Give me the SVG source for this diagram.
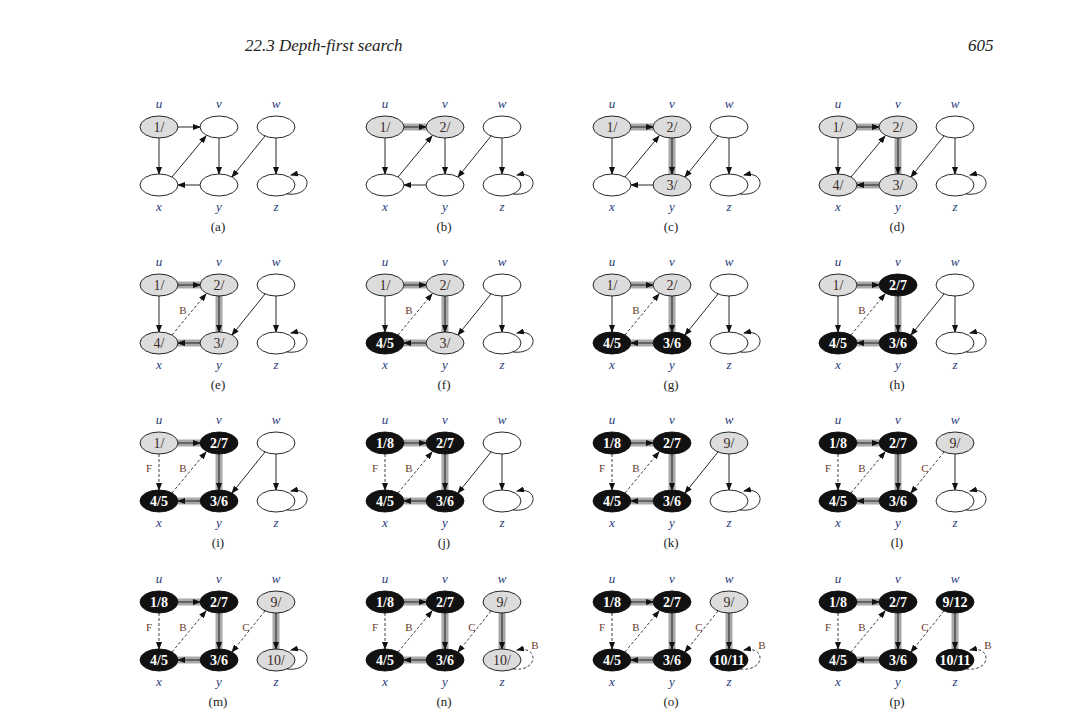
<svg xmlns="http://www.w3.org/2000/svg" xmlns:xlink="http://www.w3.org/1999/xlink" width="1092" height="728" viewBox="0 0 1092 728">
<style>
text{font-family:"Liberation Serif",serif}
.hd{font-style:italic;font-size:17px;fill:#222}
.lb{font-style:italic;font-size:13px;fill:#1f3a78;text-anchor:middle}
.cap{font-size:13px;fill:#222;text-anchor:middle}
.el{fill:none;stroke:#111;stroke-width:0.8}
.n{fill:none;stroke:#111;stroke-width:0.9;marker-end:url(#ar)}
.b{fill:none;stroke:#a8a8a8;stroke-width:7}
.d{fill:none;stroke:#111;stroke-width:0.8;stroke-dasharray:3 2;marker-end:url(#ar)}
.wh{fill:#fff;stroke:#111;stroke-width:0.9}
.gr{fill:#dcdcdc;stroke:#111;stroke-width:0.9}
.bk{fill:#111;stroke:#111;stroke-width:0.9}
.tg{font-size:14px;fill:#3a2a28;text-anchor:middle}
.tb{font-size:14px;font-weight:bold;fill:#fff;text-anchor:middle}
.et{font-size:11px;fill:#6b3b2b;text-anchor:middle}
</style>
<defs>
<marker id="ar" markerWidth="8" markerHeight="6" refX="7" refY="3" orient="auto" markerUnits="userSpaceOnUse"><path d="M0,0 L8,3 L0,6 z" fill="#111"/></marker>
<path id="uv" d="M19,0 L41,0"/>
<path id="ux" d="M0,11 L0,47"/>
<path id="xv" d="M13,50 L47,9"/>
<path id="vy" d="M60,11 L60,47"/>
<path id="yx" d="M41,58 L19,58"/>
<path id="wy" d="M106,9 L73,50"/>
<path id="wz" d="M117,11 L117,47"/>
<path id="zz" d="M128,67 C154,70 154,43 132,48"/>
<g id="labels"><text class="lb" x="0" y="-19">u</text><text class="lb" x="60" y="-19">v</text><text class="lb" x="117" y="-19">w</text><text class="lb" x="0" y="84">x</text><text class="lb" x="60" y="84">y</text><text class="lb" x="117" y="84">z</text></g>
</defs>
<text class="hd" x="245" y="51">22.3    Depth-first search</text>
<text class="hd" x="968" y="51">605</text>

<!-- (a) -->
<g id="panel-a" transform="translate(159,127)">
<g id="a-edges"><use href="#uv" class="n"/><use href="#ux" class="n"/><use href="#xv" class="n"/><use href="#vy" class="n"/><use href="#yx" class="n"/><use href="#wy" class="n"/><use href="#wz" class="n"/><use href="#zz" class="n"/></g>
<g id="a-u"><ellipse class="gr" cx="0" cy="0" rx="19" ry="11"/><text class="tg" x="0" y="5">1/</text></g>
<g id="a-v"><ellipse class="wh" cx="60" cy="0" rx="19" ry="11"/></g>
<g id="a-w"><ellipse class="wh" cx="117" cy="0" rx="19" ry="11"/></g>
<g id="a-x"><ellipse class="wh" cx="0" cy="58" rx="19" ry="11"/></g>
<g id="a-y"><ellipse class="wh" cx="60" cy="58" rx="19" ry="11"/></g>
<g id="a-z"><ellipse class="wh" cx="117" cy="58" rx="19" ry="11"/></g>
<use href="#labels"/><text class="cap" x="59" y="104">(a)</text>
</g>

<!-- (b) -->
<g id="panel-b" transform="translate(385,127)">
<g id="b-edges"><use href="#uv" class="b"/><use href="#uv" class="n"/><use href="#ux" class="n"/><use href="#xv" class="n"/><use href="#vy" class="n"/><use href="#yx" class="n"/><use href="#wy" class="n"/><use href="#wz" class="n"/><use href="#zz" class="n"/></g>
<g id="b-u"><ellipse class="gr" cx="0" cy="0" rx="19" ry="11"/><text class="tg" x="0" y="5">1/</text></g>
<g id="b-v"><ellipse class="gr" cx="60" cy="0" rx="19" ry="11"/><text class="tg" x="60" y="5">2/</text></g>
<g id="b-w"><ellipse class="wh" cx="117" cy="0" rx="19" ry="11"/></g>
<g id="b-x"><ellipse class="wh" cx="0" cy="58" rx="19" ry="11"/></g>
<g id="b-y"><ellipse class="wh" cx="60" cy="58" rx="19" ry="11"/></g>
<g id="b-z"><ellipse class="wh" cx="117" cy="58" rx="19" ry="11"/></g>
<use href="#labels"/><text class="cap" x="59" y="104">(b)</text>
</g>

<!-- (c) -->
<g id="panel-c" transform="translate(612,127)">
<g id="c-edges"><use href="#uv" class="b"/><use href="#vy" class="b"/><use href="#uv" class="n"/><use href="#ux" class="n"/><use href="#xv" class="n"/><use href="#vy" class="n"/><use href="#yx" class="n"/><use href="#wy" class="n"/><use href="#wz" class="n"/><use href="#zz" class="n"/></g>
<g id="c-u"><ellipse class="gr" cx="0" cy="0" rx="19" ry="11"/><text class="tg" x="0" y="5">1/</text></g>
<g id="c-v"><ellipse class="gr" cx="60" cy="0" rx="19" ry="11"/><text class="tg" x="60" y="5">2/</text></g>
<g id="c-w"><ellipse class="wh" cx="117" cy="0" rx="19" ry="11"/></g>
<g id="c-x"><ellipse class="wh" cx="0" cy="58" rx="19" ry="11"/></g>
<g id="c-y"><ellipse class="gr" cx="60" cy="58" rx="19" ry="11"/><text class="tg" x="60" y="63">3/</text></g>
<g id="c-z"><ellipse class="wh" cx="117" cy="58" rx="19" ry="11"/></g>
<use href="#labels"/><text class="cap" x="59" y="104">(c)</text>
</g>

<!-- (d) -->
<g id="panel-d" transform="translate(838,127)">
<g id="d-edges"><use href="#uv" class="b"/><use href="#vy" class="b"/><use href="#yx" class="b"/><use href="#uv" class="n"/><use href="#ux" class="n"/><use href="#xv" class="n"/><use href="#vy" class="n"/><use href="#yx" class="n"/><use href="#wy" class="n"/><use href="#wz" class="n"/><use href="#zz" class="n"/></g>
<g id="d-u"><ellipse class="gr" cx="0" cy="0" rx="19" ry="11"/><text class="tg" x="0" y="5">1/</text></g>
<g id="d-v"><ellipse class="gr" cx="60" cy="0" rx="19" ry="11"/><text class="tg" x="60" y="5">2/</text></g>
<g id="d-w"><ellipse class="wh" cx="117" cy="0" rx="19" ry="11"/></g>
<g id="d-x"><ellipse class="gr" cx="0" cy="58" rx="19" ry="11"/><text class="tg" x="0" y="63">4/</text></g>
<g id="d-y"><ellipse class="gr" cx="60" cy="58" rx="19" ry="11"/><text class="tg" x="60" y="63">3/</text></g>
<g id="d-z"><ellipse class="wh" cx="117" cy="58" rx="19" ry="11"/></g>
<use href="#labels"/><text class="cap" x="59" y="104">(d)</text>
</g>

<!-- (e) -->
<g id="panel-e" transform="translate(159,285)">
<g id="e-edges"><use href="#uv" class="b"/><use href="#vy" class="b"/><use href="#yx" class="b"/><use href="#uv" class="n"/><use href="#ux" class="n"/><use href="#xv" class="d"/><use href="#vy" class="n"/><use href="#yx" class="n"/><use href="#wy" class="n"/><use href="#wz" class="n"/><use href="#zz" class="n"/><text class="et" x="24" y="29">B</text></g>
<g id="e-u"><ellipse class="gr" cx="0" cy="0" rx="19" ry="11"/><text class="tg" x="0" y="5">1/</text></g>
<g id="e-v"><ellipse class="gr" cx="60" cy="0" rx="19" ry="11"/><text class="tg" x="60" y="5">2/</text></g>
<g id="e-w"><ellipse class="wh" cx="117" cy="0" rx="19" ry="11"/></g>
<g id="e-x"><ellipse class="gr" cx="0" cy="58" rx="19" ry="11"/><text class="tg" x="0" y="63">4/</text></g>
<g id="e-y"><ellipse class="gr" cx="60" cy="58" rx="19" ry="11"/><text class="tg" x="60" y="63">3/</text></g>
<g id="e-z"><ellipse class="wh" cx="117" cy="58" rx="19" ry="11"/></g>
<use href="#labels"/><text class="cap" x="59" y="104">(e)</text>
</g>

<!-- (f) -->
<g id="panel-f" transform="translate(385,285)">
<g id="f-edges"><use href="#uv" class="b"/><use href="#vy" class="b"/><use href="#yx" class="b"/><use href="#uv" class="n"/><use href="#ux" class="n"/><use href="#xv" class="d"/><use href="#vy" class="n"/><use href="#yx" class="n"/><use href="#wy" class="n"/><use href="#wz" class="n"/><use href="#zz" class="n"/><text class="et" x="24" y="29">B</text></g>
<g id="f-u"><ellipse class="gr" cx="0" cy="0" rx="19" ry="11"/><text class="tg" x="0" y="5">1/</text></g>
<g id="f-v"><ellipse class="gr" cx="60" cy="0" rx="19" ry="11"/><text class="tg" x="60" y="5">2/</text></g>
<g id="f-w"><ellipse class="wh" cx="117" cy="0" rx="19" ry="11"/></g>
<g id="f-x"><ellipse class="bk" cx="0" cy="58" rx="19" ry="11"/><text class="tb" x="0" y="63">4/5</text></g>
<g id="f-y"><ellipse class="gr" cx="60" cy="58" rx="19" ry="11"/><text class="tg" x="60" y="63">3/</text></g>
<g id="f-z"><ellipse class="wh" cx="117" cy="58" rx="19" ry="11"/></g>
<use href="#labels"/><text class="cap" x="59" y="104">(f)</text>
</g>

<!-- (g) -->
<g id="panel-g" transform="translate(612,285)">
<g id="g-edges"><use href="#uv" class="b"/><use href="#vy" class="b"/><use href="#yx" class="b"/><use href="#uv" class="n"/><use href="#ux" class="n"/><use href="#xv" class="d"/><use href="#vy" class="n"/><use href="#yx" class="n"/><use href="#wy" class="n"/><use href="#wz" class="n"/><use href="#zz" class="n"/><text class="et" x="24" y="29">B</text></g>
<g id="g-u"><ellipse class="gr" cx="0" cy="0" rx="19" ry="11"/><text class="tg" x="0" y="5">1/</text></g>
<g id="g-v"><ellipse class="gr" cx="60" cy="0" rx="19" ry="11"/><text class="tg" x="60" y="5">2/</text></g>
<g id="g-w"><ellipse class="wh" cx="117" cy="0" rx="19" ry="11"/></g>
<g id="g-x"><ellipse class="bk" cx="0" cy="58" rx="19" ry="11"/><text class="tb" x="0" y="63">4/5</text></g>
<g id="g-y"><ellipse class="bk" cx="60" cy="58" rx="19" ry="11"/><text class="tb" x="60" y="63">3/6</text></g>
<g id="g-z"><ellipse class="wh" cx="117" cy="58" rx="19" ry="11"/></g>
<use href="#labels"/><text class="cap" x="59" y="104">(g)</text>
</g>

<!-- (h) -->
<g id="panel-h" transform="translate(838,285)">
<g id="h-edges"><use href="#uv" class="b"/><use href="#vy" class="b"/><use href="#yx" class="b"/><use href="#uv" class="n"/><use href="#ux" class="n"/><use href="#xv" class="d"/><use href="#vy" class="n"/><use href="#yx" class="n"/><use href="#wy" class="n"/><use href="#wz" class="n"/><use href="#zz" class="n"/><text class="et" x="24" y="29">B</text></g>
<g id="h-u"><ellipse class="gr" cx="0" cy="0" rx="19" ry="11"/><text class="tg" x="0" y="5">1/</text></g>
<g id="h-v"><ellipse class="bk" cx="60" cy="0" rx="19" ry="11"/><text class="tb" x="60" y="5">2/7</text></g>
<g id="h-w"><ellipse class="wh" cx="117" cy="0" rx="19" ry="11"/></g>
<g id="h-x"><ellipse class="bk" cx="0" cy="58" rx="19" ry="11"/><text class="tb" x="0" y="63">4/5</text></g>
<g id="h-y"><ellipse class="bk" cx="60" cy="58" rx="19" ry="11"/><text class="tb" x="60" y="63">3/6</text></g>
<g id="h-z"><ellipse class="wh" cx="117" cy="58" rx="19" ry="11"/></g>
<use href="#labels"/><text class="cap" x="59" y="104">(h)</text>
</g>

<!-- (i) -->
<g id="panel-i" transform="translate(159,443)">
<g id="i-edges"><use href="#uv" class="b"/><use href="#vy" class="b"/><use href="#yx" class="b"/><use href="#uv" class="n"/><use href="#ux" class="d"/><use href="#xv" class="d"/><use href="#vy" class="n"/><use href="#yx" class="n"/><use href="#wy" class="n"/><use href="#wz" class="n"/><use href="#zz" class="n"/><text class="et" x="24" y="29">B</text><text class="et" x="-10" y="29">F</text></g>
<g id="i-u"><ellipse class="gr" cx="0" cy="0" rx="19" ry="11"/><text class="tg" x="0" y="5">1/</text></g>
<g id="i-v"><ellipse class="bk" cx="60" cy="0" rx="19" ry="11"/><text class="tb" x="60" y="5">2/7</text></g>
<g id="i-w"><ellipse class="wh" cx="117" cy="0" rx="19" ry="11"/></g>
<g id="i-x"><ellipse class="bk" cx="0" cy="58" rx="19" ry="11"/><text class="tb" x="0" y="63">4/5</text></g>
<g id="i-y"><ellipse class="bk" cx="60" cy="58" rx="19" ry="11"/><text class="tb" x="60" y="63">3/6</text></g>
<g id="i-z"><ellipse class="wh" cx="117" cy="58" rx="19" ry="11"/></g>
<use href="#labels"/><text class="cap" x="59" y="104">(i)</text>
</g>

<!-- (j) -->
<g id="panel-j" transform="translate(385,443)">
<g id="j-edges"><use href="#uv" class="b"/><use href="#vy" class="b"/><use href="#yx" class="b"/><use href="#uv" class="n"/><use href="#ux" class="d"/><use href="#xv" class="d"/><use href="#vy" class="n"/><use href="#yx" class="n"/><use href="#wy" class="n"/><use href="#wz" class="n"/><use href="#zz" class="n"/><text class="et" x="24" y="29">B</text><text class="et" x="-10" y="29">F</text></g>
<g id="j-u"><ellipse class="bk" cx="0" cy="0" rx="19" ry="11"/><text class="tb" x="0" y="5">1/8</text></g>
<g id="j-v"><ellipse class="bk" cx="60" cy="0" rx="19" ry="11"/><text class="tb" x="60" y="5">2/7</text></g>
<g id="j-w"><ellipse class="wh" cx="117" cy="0" rx="19" ry="11"/></g>
<g id="j-x"><ellipse class="bk" cx="0" cy="58" rx="19" ry="11"/><text class="tb" x="0" y="63">4/5</text></g>
<g id="j-y"><ellipse class="bk" cx="60" cy="58" rx="19" ry="11"/><text class="tb" x="60" y="63">3/6</text></g>
<g id="j-z"><ellipse class="wh" cx="117" cy="58" rx="19" ry="11"/></g>
<use href="#labels"/><text class="cap" x="59" y="104">(j)</text>
</g>

<!-- (k) -->
<g id="panel-k" transform="translate(612,443)">
<g id="k-edges"><use href="#uv" class="b"/><use href="#vy" class="b"/><use href="#yx" class="b"/><use href="#uv" class="n"/><use href="#ux" class="d"/><use href="#xv" class="d"/><use href="#vy" class="n"/><use href="#yx" class="n"/><use href="#wy" class="n"/><use href="#wz" class="n"/><use href="#zz" class="n"/><text class="et" x="24" y="29">B</text><text class="et" x="-10" y="29">F</text></g>
<g id="k-u"><ellipse class="bk" cx="0" cy="0" rx="19" ry="11"/><text class="tb" x="0" y="5">1/8</text></g>
<g id="k-v"><ellipse class="bk" cx="60" cy="0" rx="19" ry="11"/><text class="tb" x="60" y="5">2/7</text></g>
<g id="k-w"><ellipse class="gr" cx="117" cy="0" rx="19" ry="11"/><text class="tg" x="117" y="5">9/</text></g>
<g id="k-x"><ellipse class="bk" cx="0" cy="58" rx="19" ry="11"/><text class="tb" x="0" y="63">4/5</text></g>
<g id="k-y"><ellipse class="bk" cx="60" cy="58" rx="19" ry="11"/><text class="tb" x="60" y="63">3/6</text></g>
<g id="k-z"><ellipse class="wh" cx="117" cy="58" rx="19" ry="11"/></g>
<use href="#labels"/><text class="cap" x="59" y="104">(k)</text>
</g>

<!-- (l) -->
<g id="panel-l" transform="translate(838,443)">
<g id="l-edges"><use href="#uv" class="b"/><use href="#vy" class="b"/><use href="#yx" class="b"/><use href="#uv" class="n"/><use href="#ux" class="d"/><use href="#xv" class="d"/><use href="#vy" class="n"/><use href="#yx" class="n"/><use href="#wy" class="d"/><use href="#wz" class="n"/><use href="#zz" class="n"/><text class="et" x="24" y="29">B</text><text class="et" x="-10" y="29">F</text><text class="et" x="87" y="29">C</text></g>
<g id="l-u"><ellipse class="bk" cx="0" cy="0" rx="19" ry="11"/><text class="tb" x="0" y="5">1/8</text></g>
<g id="l-v"><ellipse class="bk" cx="60" cy="0" rx="19" ry="11"/><text class="tb" x="60" y="5">2/7</text></g>
<g id="l-w"><ellipse class="gr" cx="117" cy="0" rx="19" ry="11"/><text class="tg" x="117" y="5">9/</text></g>
<g id="l-x"><ellipse class="bk" cx="0" cy="58" rx="19" ry="11"/><text class="tb" x="0" y="63">4/5</text></g>
<g id="l-y"><ellipse class="bk" cx="60" cy="58" rx="19" ry="11"/><text class="tb" x="60" y="63">3/6</text></g>
<g id="l-z"><ellipse class="wh" cx="117" cy="58" rx="19" ry="11"/></g>
<use href="#labels"/><text class="cap" x="59" y="104">(l)</text>
</g>

<!-- (m) -->
<g id="panel-m" transform="translate(159,602)">
<g id="m-edges"><use href="#uv" class="b"/><use href="#vy" class="b"/><use href="#yx" class="b"/><use href="#wz" class="b"/><use href="#uv" class="n"/><use href="#ux" class="d"/><use href="#xv" class="d"/><use href="#vy" class="n"/><use href="#yx" class="n"/><use href="#wy" class="d"/><use href="#wz" class="n"/><use href="#zz" class="n"/><text class="et" x="24" y="29">B</text><text class="et" x="-10" y="29">F</text><text class="et" x="87" y="29">C</text></g>
<g id="m-u"><ellipse class="bk" cx="0" cy="0" rx="19" ry="11"/><text class="tb" x="0" y="5">1/8</text></g>
<g id="m-v"><ellipse class="bk" cx="60" cy="0" rx="19" ry="11"/><text class="tb" x="60" y="5">2/7</text></g>
<g id="m-w"><ellipse class="gr" cx="117" cy="0" rx="19" ry="11"/><text class="tg" x="117" y="5">9/</text></g>
<g id="m-x"><ellipse class="bk" cx="0" cy="58" rx="19" ry="11"/><text class="tb" x="0" y="63">4/5</text></g>
<g id="m-y"><ellipse class="bk" cx="60" cy="58" rx="19" ry="11"/><text class="tb" x="60" y="63">3/6</text></g>
<g id="m-z"><ellipse class="gr" cx="117" cy="58" rx="19" ry="11"/><text class="tg" x="117" y="63">10/</text></g>
<use href="#labels"/><text class="cap" x="59" y="104">(m)</text>
</g>

<!-- (n) -->
<g id="panel-n" transform="translate(385,602)">
<g id="n-edges"><use href="#uv" class="b"/><use href="#vy" class="b"/><use href="#yx" class="b"/><use href="#wz" class="b"/><use href="#uv" class="n"/><use href="#ux" class="d"/><use href="#xv" class="d"/><use href="#vy" class="n"/><use href="#yx" class="n"/><use href="#wy" class="d"/><use href="#wz" class="n"/><use href="#zz" class="d"/><text class="et" x="24" y="29">B</text><text class="et" x="-10" y="29">F</text><text class="et" x="87" y="29">C</text><text class="et" x="150" y="47">B</text></g>
<g id="n-u"><ellipse class="bk" cx="0" cy="0" rx="19" ry="11"/><text class="tb" x="0" y="5">1/8</text></g>
<g id="n-v"><ellipse class="bk" cx="60" cy="0" rx="19" ry="11"/><text class="tb" x="60" y="5">2/7</text></g>
<g id="n-w"><ellipse class="gr" cx="117" cy="0" rx="19" ry="11"/><text class="tg" x="117" y="5">9/</text></g>
<g id="n-x"><ellipse class="bk" cx="0" cy="58" rx="19" ry="11"/><text class="tb" x="0" y="63">4/5</text></g>
<g id="n-y"><ellipse class="bk" cx="60" cy="58" rx="19" ry="11"/><text class="tb" x="60" y="63">3/6</text></g>
<g id="n-z"><ellipse class="gr" cx="117" cy="58" rx="19" ry="11"/><text class="tg" x="117" y="63">10/</text></g>
<use href="#labels"/><text class="cap" x="59" y="104">(n)</text>
</g>

<!-- (o) -->
<g id="panel-o" transform="translate(612,602)">
<g id="o-edges"><use href="#uv" class="b"/><use href="#vy" class="b"/><use href="#yx" class="b"/><use href="#wz" class="b"/><use href="#uv" class="n"/><use href="#ux" class="d"/><use href="#xv" class="d"/><use href="#vy" class="n"/><use href="#yx" class="n"/><use href="#wy" class="d"/><use href="#wz" class="n"/><use href="#zz" class="d"/><text class="et" x="24" y="29">B</text><text class="et" x="-10" y="29">F</text><text class="et" x="87" y="29">C</text><text class="et" x="150" y="47">B</text></g>
<g id="o-u"><ellipse class="bk" cx="0" cy="0" rx="19" ry="11"/><text class="tb" x="0" y="5">1/8</text></g>
<g id="o-v"><ellipse class="bk" cx="60" cy="0" rx="19" ry="11"/><text class="tb" x="60" y="5">2/7</text></g>
<g id="o-w"><ellipse class="gr" cx="117" cy="0" rx="19" ry="11"/><text class="tg" x="117" y="5">9/</text></g>
<g id="o-x"><ellipse class="bk" cx="0" cy="58" rx="19" ry="11"/><text class="tb" x="0" y="63">4/5</text></g>
<g id="o-y"><ellipse class="bk" cx="60" cy="58" rx="19" ry="11"/><text class="tb" x="60" y="63">3/6</text></g>
<g id="o-z"><ellipse class="bk" cx="117" cy="58" rx="19" ry="11"/><text class="tb" x="117" y="63">10/11</text></g>
<use href="#labels"/><text class="cap" x="59" y="104">(o)</text>
</g>

<!-- (p) -->
<g id="panel-p" transform="translate(838,602)">
<g id="p-edges"><use href="#uv" class="b"/><use href="#vy" class="b"/><use href="#yx" class="b"/><use href="#wz" class="b"/><use href="#uv" class="n"/><use href="#ux" class="d"/><use href="#xv" class="d"/><use href="#vy" class="n"/><use href="#yx" class="n"/><use href="#wy" class="d"/><use href="#wz" class="n"/><use href="#zz" class="d"/><text class="et" x="24" y="29">B</text><text class="et" x="-10" y="29">F</text><text class="et" x="87" y="29">C</text><text class="et" x="150" y="47">B</text></g>
<g id="p-u"><ellipse class="bk" cx="0" cy="0" rx="19" ry="11"/><text class="tb" x="0" y="5">1/8</text></g>
<g id="p-v"><ellipse class="bk" cx="60" cy="0" rx="19" ry="11"/><text class="tb" x="60" y="5">2/7</text></g>
<g id="p-w"><ellipse class="bk" cx="117" cy="0" rx="19" ry="11"/><text class="tb" x="117" y="5">9/12</text></g>
<g id="p-x"><ellipse class="bk" cx="0" cy="58" rx="19" ry="11"/><text class="tb" x="0" y="63">4/5</text></g>
<g id="p-y"><ellipse class="bk" cx="60" cy="58" rx="19" ry="11"/><text class="tb" x="60" y="63">3/6</text></g>
<g id="p-z"><ellipse class="bk" cx="117" cy="58" rx="19" ry="11"/><text class="tb" x="117" y="63">10/11</text></g>
<use href="#labels"/><text class="cap" x="59" y="104">(p)</text>
</g>
</svg>
